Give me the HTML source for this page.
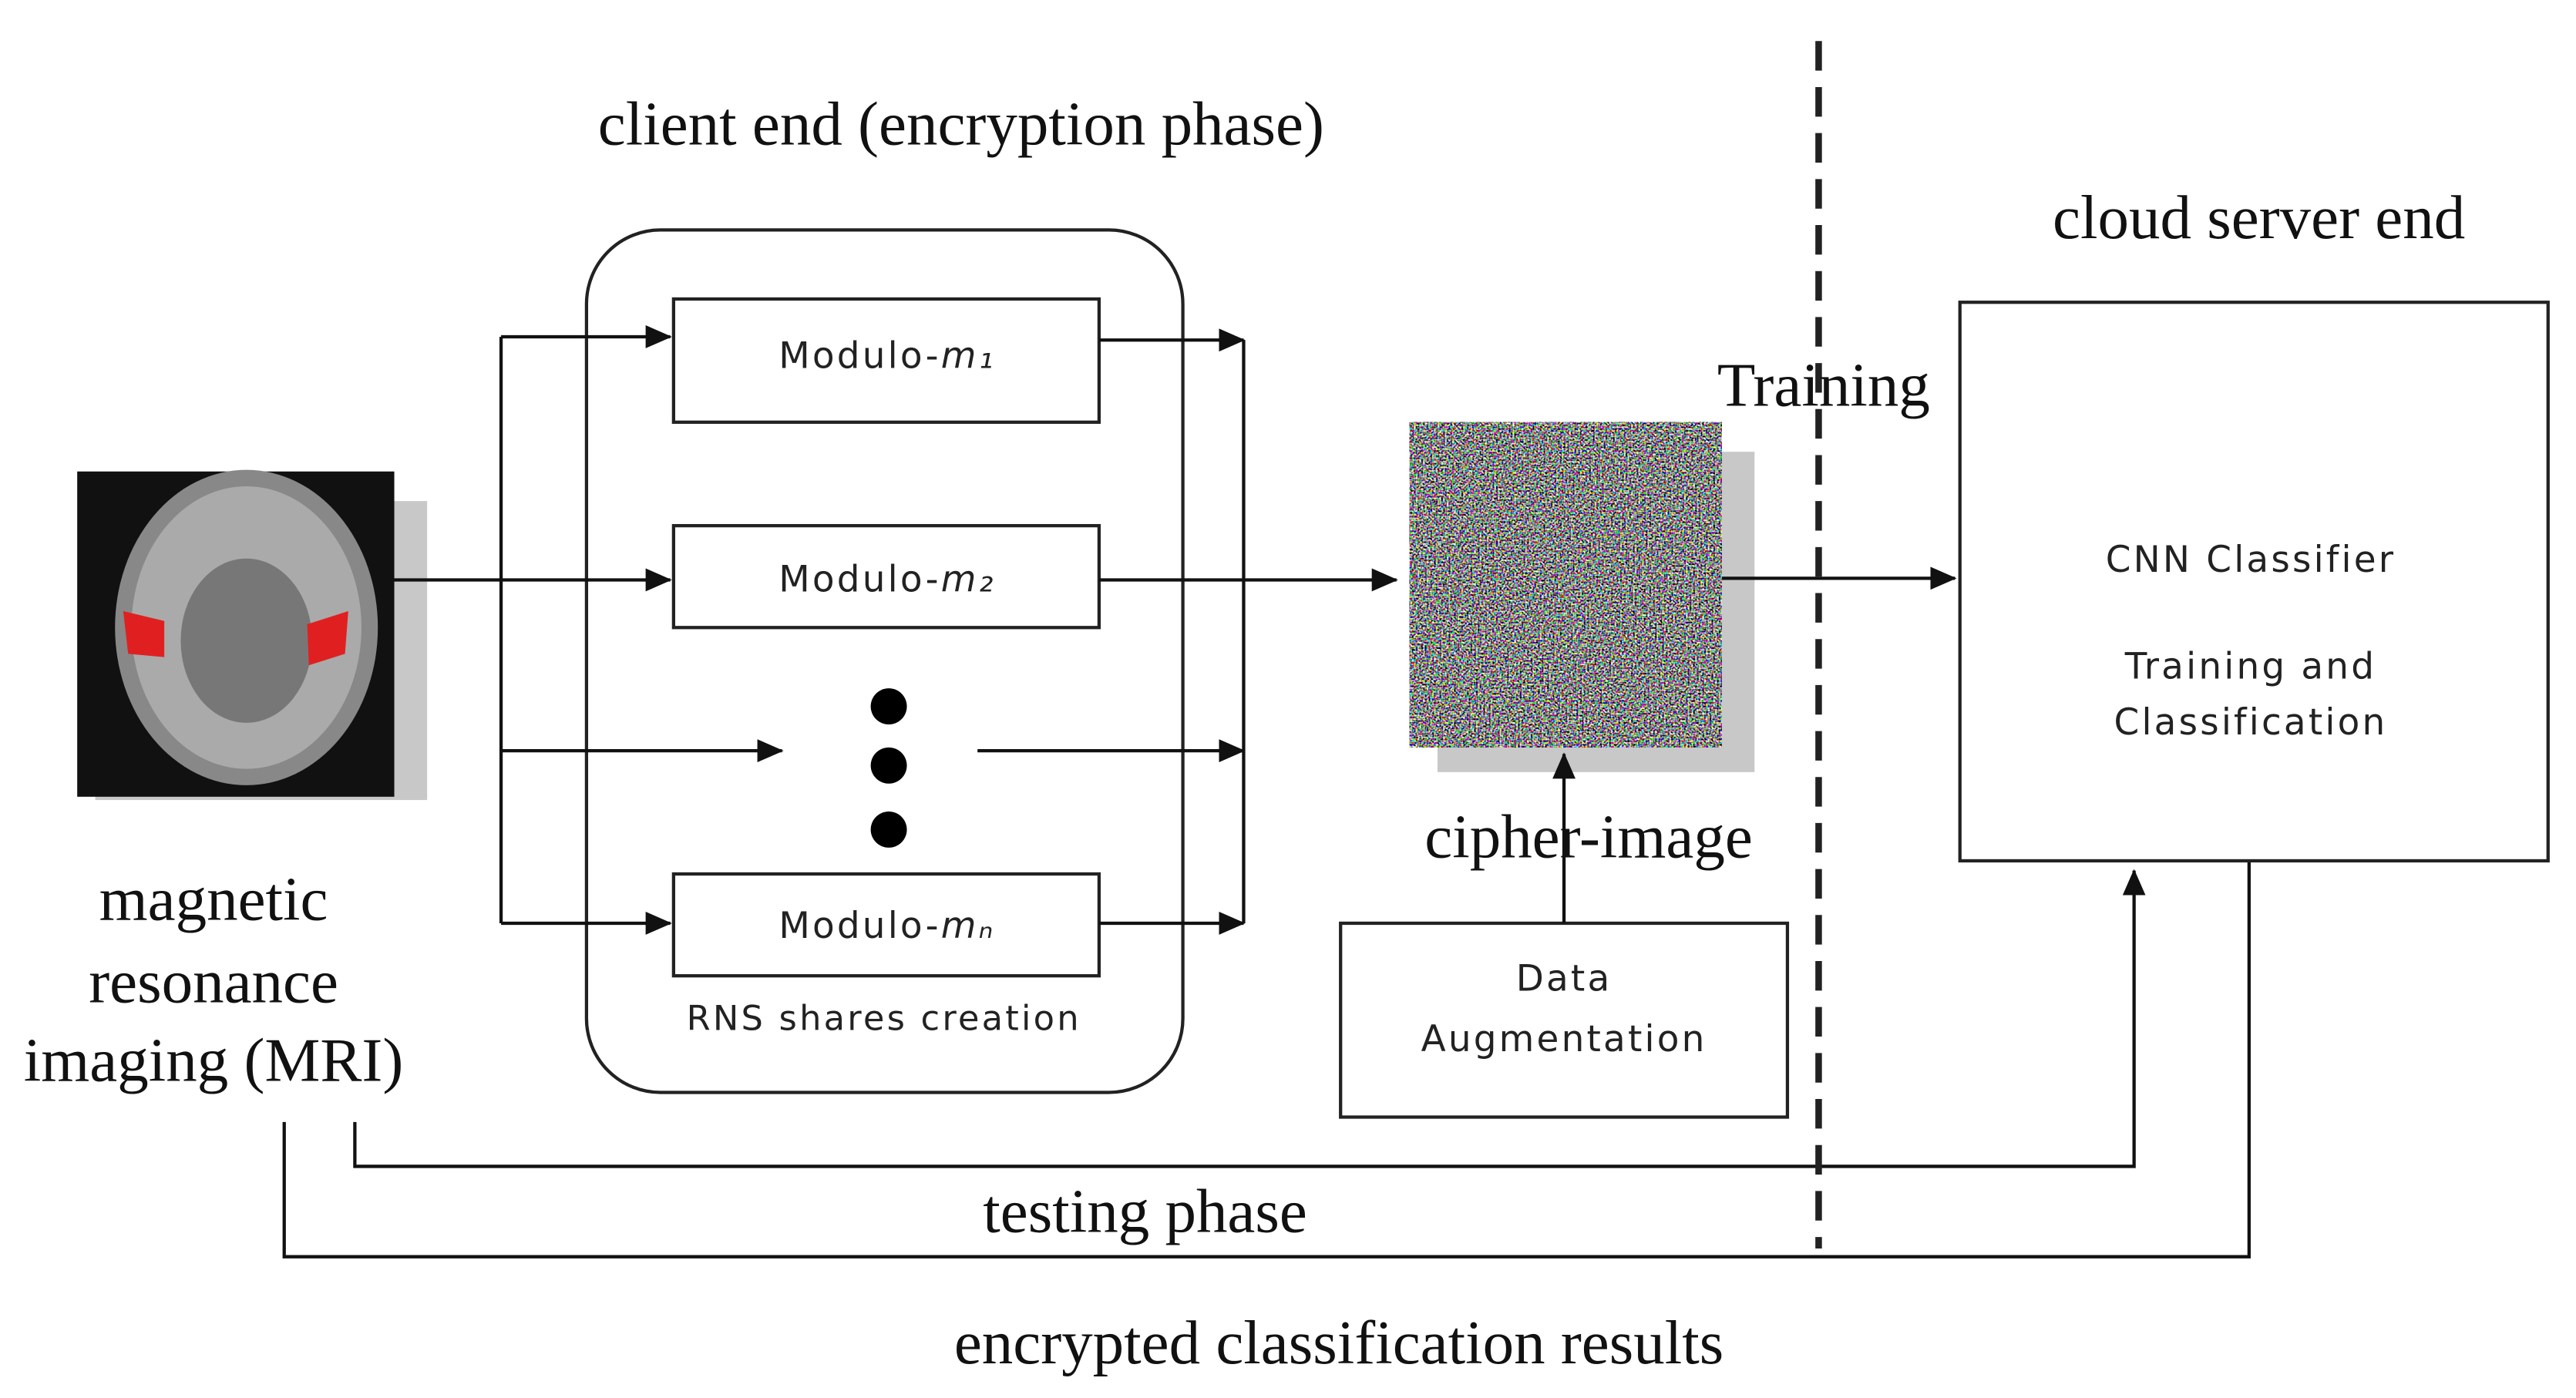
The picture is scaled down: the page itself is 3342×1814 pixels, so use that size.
<!DOCTYPE html>
<html><head><meta charset="utf-8"><style>
html,body{margin:0;padding:0;background:#fff;}
svg{display:block}
.s{font-family:"Liberation Serif",serif;font-size:38px;fill:#111;text-anchor:middle}
.a{font-family:"DejaVu Sans","Liberation Sans",sans-serif;font-size:22px;fill:#222;text-anchor:middle;letter-spacing:1.5px}
</style></head><body>
<svg width="3342" height="1814" viewBox="0 0 1568 851" preserveAspectRatio="none" xmlns="http://www.w3.org/2000/svg">
<defs>
<marker id="ar2" markerWidth="16" markerHeight="14" refX="15" refY="7" orient="auto" markerUnits="userSpaceOnUse" viewBox="0 0 16 14"><path d="M0,0 L16,7 L0,14 z" fill="#111"/></marker>
<filter id="nz" x="0" y="0" width="100%" height="100%">
<feTurbulence type="fractalNoise" baseFrequency="0.9" numOctaves="1" seed="3"/>
<feColorMatrix type="matrix" values="4 0 0 0 -1.7  0 4 0 0 -1.7  0 0 4 0 -1.7  0 0 0 0 1"/>
</filter>
</defs>
<rect width="1568" height="851" fill="#fff"/>
<text class="s" x="585" y="88">client end (encryption phase)</text>
<rect x="357" y="140" width="363" height="525" rx="45" fill="none" stroke="#222" stroke-width="2"/>
<g fill="#fff" stroke="#222" stroke-width="2">
<rect x="410" y="182" width="259" height="75"/>
<rect x="410" y="320" width="259" height="62"/>
<rect x="410" y="532" width="259" height="62"/>
</g>
<text class="a" x="540" y="224">Modulo-<tspan font-style="italic">m₁</tspan></text>
<text class="a" x="540" y="360">Modulo-<tspan font-style="italic">m₂</tspan></text>
<text class="a" x="540" y="571">Modulo-<tspan font-style="italic">mₙ</tspan></text>
<circle cx="541" cy="430" r="11" fill="#000"/><circle cx="541" cy="466" r="11" fill="#000"/><circle cx="541" cy="505" r="11" fill="#000"/>
<text class="a" x="538" y="627" style="font-size:21px">RNS shares creation</text>
<rect x="58" y="305" width="202" height="182" fill="#c8c8c8"/>
<rect x="47" y="287" width="193" height="198" fill="#111"/>
<ellipse cx="150" cy="382" rx="80" ry="96" fill="#888"/>
<ellipse cx="150" cy="382" rx="70" ry="86" fill="#aaa"/>
<ellipse cx="150" cy="390" rx="40" ry="50" fill="#777"/>
<path d="M75,372 L100,378 L100,400 L78,398 Z" fill="#e02020"/>
<path d="M212,372 L187,380 L188,405 L210,398 Z" fill="#e02020"/>
<text class="s" x="130" y="560">magnetic</text>
<text class="s" x="130" y="610">resonance</text>
<text class="s" x="130" y="658">imaging (MRI)</text>
<rect x="875" y="275" width="193" height="195" fill="#c8c8c8"/>
<rect x="858" y="257" width="190" height="198" fill="#888" filter="url(#nz)"/>
<text class="s" x="967" y="522">cipher-image</text>
<rect x="816" y="562" width="272" height="118" fill="#fff" stroke="#222" stroke-width="2"/>
<text class="a" x="952" y="603">Data</text>
<text class="a" x="952" y="640">Augmentation</text>
<g stroke="#111" stroke-width="2" fill="none">
<path d="M305,205 V562"/>
<path d="M305,205 H408" marker-end="url(#ar2)"/>
<path d="M238,353 H408" marker-end="url(#ar2)"/>
<path d="M305,457 H476" marker-end="url(#ar2)"/>
<path d="M305,562 H408" marker-end="url(#ar2)"/>
<path d="M669,207 H757" marker-end="url(#ar2)"/>
<path d="M595,457 H757" marker-end="url(#ar2)"/>
<path d="M669,562 H757" marker-end="url(#ar2)"/>
<path d="M757,207 V562"/>
<path d="M669,353 H850" marker-end="url(#ar2)"/>
<path d="M1048,352 H1190" marker-end="url(#ar2)"/>
<path d="M952,562 V459" marker-end="url(#ar2)"/>
<path d="M216,683 V710 H1299 V530" marker-end="url(#ar2)"/>
<path d="M173,683 V765 H1369 V524"/>
</g>
<path d="M1107,25 V760" stroke="#222" stroke-width="4" stroke-dasharray="18 10"/>
<text class="s" x="1110" y="247">Training</text>
<text class="s" x="1375" y="145">cloud server end</text>
<rect x="1193" y="184" width="358" height="340" fill="#fff" stroke="#222" stroke-width="2"/>
<text class="a" x="1370" y="348">CNN Classifier</text>
<text class="a" x="1370" y="413">Training and</text>
<text class="a" x="1370" y="447">Classification</text>
<text class="s" x="697" y="750">testing phase</text>
<text class="s" x="815" y="830">encrypted classification results</text>
</svg>
</body></html>
